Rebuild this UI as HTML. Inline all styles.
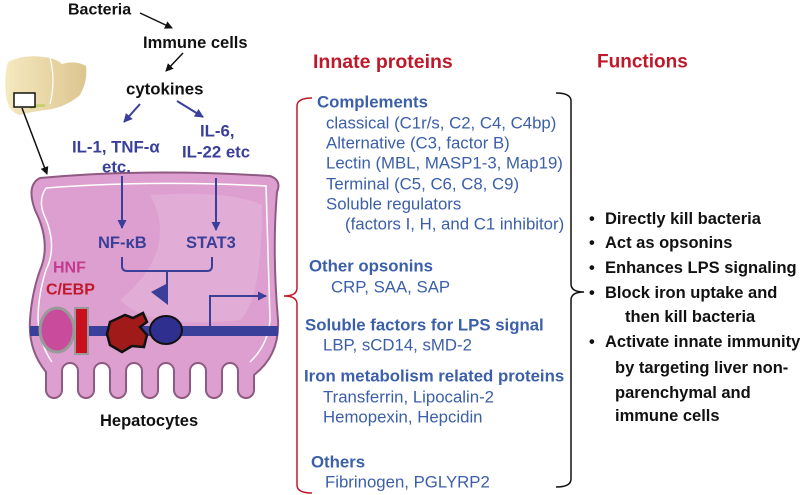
<!DOCTYPE html>
<html><head><meta charset="utf-8"><style>
html,body{margin:0;padding:0;background:#fff;}
svg{display:block;}
text{font-family:"Liberation Sans",Arial,sans-serif;dominant-baseline:central;}
.b{font-weight:bold;}
.bl{fill:#3b5fa8;font-size:16.8px;}
.fn{fill:#111;font-size:16.5px;font-weight:bold;}
</style></head><body>
<svg width="800" height="495" viewBox="0 0 800 495" xmlns="http://www.w3.org/2000/svg">
<defs>
<marker id="ak" markerWidth="8" markerHeight="8" refX="7" refY="4" orient="auto" markerUnits="userSpaceOnUse"><path d="M0,0 L8,4 L0,8 z" fill="#111"/></marker>
<marker id="ab" markerWidth="9" markerHeight="9" refX="8" refY="4.5" orient="auto" markerUnits="userSpaceOnUse"><path d="M0,0 L9,4.5 L0,9 z" fill="#3a3f9a"/></marker>
<linearGradient id="lv" x1="0" x2="1"><stop offset="0" stop-color="#f5e9bf"/><stop offset="1" stop-color="#dcc58f"/></linearGradient>
</defs>
<!-- liver -->
<path d="M8,62 Q25,53 50,58 Q58,60 62,64 Q75,60 86,66 Q88,80 80,95 Q65,108 45,110 Q30,112 20,115 Q8,112 6,95 Q4,75 8,62 Z" fill="url(#lv)"/>
<path d="M50,58 Q56,80 50,104" fill="none" stroke="#fff" stroke-width="1.2"/>
<path d="M30,108 Q40,104 45,106" stroke="#c8d070" stroke-width="3" fill="none"/>
<rect x="14" y="93" width="21" height="14" fill="#fff" stroke="#111" stroke-width="1.5"/>
<line x1="22" y1="108" x2="47" y2="174" stroke="#111" stroke-width="1.5" marker-end="url(#ak)"/>
<!-- top texts -->
<text x="68" y="10" class="b" font-size="16" fill="#111">Bacteria</text>
<line x1="140" y1="13" x2="172" y2="28" stroke="#111" stroke-width="1.5" marker-end="url(#ak)"/>
<text x="143" y="43" class="b" font-size="16.5" fill="#111">Immune cells</text>
<line x1="183" y1="53" x2="166" y2="71" stroke="#111" stroke-width="1.5" marker-end="url(#ak)"/>
<text x="126" y="89" class="b" font-size="16.8" fill="#111">cytokines</text>
<!-- cell -->
<path d="M40,178 Q150,168 270,176 Q282,180 277,192 Q272,250 278,320 Q280,355 254,375 L254,390 A8,8 0 0 1 238,390 L238,371 A8,8 0 0 0 222,371 L222,390 A8,8 0 0 1 206,390 L206,371 A8,8 0 0 0 190,371 L190,390 A8,8 0 0 1 174,390 L174,371 A8,8 0 0 0 158,371 L158,390 A8,8 0 0 1 142,390 L142,371 A8,8 0 0 0 126,371 L126,390 A8,8 0 0 1 110,390 L110,371 A8,8 0 0 0 94,371 L94,390 A8,8 0 0 1 78,390 L78,371 A8,8 0 0 0 62,371 L62,390 A8,8 0 0 1 46,390 L46,372 Q28,350 30,320 Q32,290 42,265 Q50,240 35,210 Q26,185 40,178 Z" fill="#dd9fcf" stroke="#8f5a82" stroke-width="2"/>
<path d="M46,188 Q150,180 266,186 Q268,250 270,320 Q268,345 250,362" fill="none" stroke="#fff" stroke-width="1.5"/>
<path d="M46,188 Q38,200 44,215 Q58,245 46,270 Q38,295 38,320 Q40,345 52,362" fill="none" stroke="#fff" stroke-width="1.5"/>
<path d="M150,195 Q230,190 262,205 Q262,300 240,320 Q150,330 120,300 Q180,250 150,195 Z" fill="#e5b5d9" opacity="0.6"/>
<!-- cytokine arrows -->
<line x1="140" y1="104" x2="124" y2="122" stroke="#3a3f9a" stroke-width="2" marker-end="url(#ab)"/>
<line x1="177" y1="101" x2="203" y2="117" stroke="#3a3f9a" stroke-width="2" marker-end="url(#ab)"/>
<text x="72" y="147" class="b" font-size="16.8" fill="#3a3f9a">IL-1, TNF-α</text>
<text x="102" y="167" class="b" font-size="16.8" fill="#3a3f9a">etc.</text>
<text x="200" y="131" class="b" font-size="16.8" fill="#3a3f9a">IL-6,</text>
<text x="182" y="152" class="b" font-size="16.8" fill="#3a3f9a">IL-22 etc</text>
<line x1="122" y1="176" x2="122" y2="228" stroke="#3a3f9a" stroke-width="2" marker-end="url(#ab)"/>
<line x1="216" y1="178" x2="216" y2="230" stroke="#3a3f9a" stroke-width="2" marker-end="url(#ab)"/>
<text x="98" y="243" class="b" font-size="16.5" fill="#3a3f9a">NF-κB</text>
<text x="186" y="243" class="b" font-size="16.5" fill="#3a3f9a">STAT3</text>
<path d="M122,257 V266 Q122,271 127,271 H207 Q212,271 212,266 V257 M167,271 V290" fill="none" stroke="#3a3f9a" stroke-width="2"/>
<path d="M151,292 L168,283 L168,305 Z" fill="#3a3f9a"/>
<text x="53" y="268" class="b" font-size="16" fill="#c23b8f">HNF</text>
<text x="46" y="290" class="b" font-size="16" fill="#c0182b">C/EBP</text>
<!-- DNA -->
<rect x="30" y="326" width="248" height="10" fill="#3a3f9a"/>
<ellipse cx="57" cy="330" rx="17" ry="22" fill="#c94c9c" stroke="#999" stroke-width="3"/>
<rect x="75" y="308" width="13" height="46" fill="#c8101e" stroke="#999" stroke-width="2"/>
<path d="M110,322 L125,315 L133,318 L143,313 L147,322 L140,327 L147,335 L144,347 L132,346 L122,352 L110,345 L107,334 Z" fill="#a01a1a" stroke="#111" stroke-width="2.5"/>
<ellipse cx="166" cy="330" rx="16" ry="14" fill="#2f2f8f" stroke="#111" stroke-width="2"/>
<path d="M210,326 V296 H266" fill="none" stroke="#3a3f9a" stroke-width="2" marker-end="url(#ab)"/>
<text x="100" y="421" class="b" font-size="16.5" fill="#111">Hepatocytes</text>
<!-- headers -->
<text x="313" y="62" class="b" font-size="19.5" fill="#c0182b">Innate proteins</text>
<text x="597" y="62" class="b" font-size="19" fill="#c0182b">Functions</text>
<!-- red brace -->
<path d="M312,98 Q297,98 297,106 V288 Q297,296 284,296 Q297,296 297,304 V485 Q297,493 312,493" fill="none" stroke="#c0182b" stroke-width="1.5"/>
<!-- black brace -->
<path d="M556,93 Q571,93 571,101 V284 Q571,292 584,292 Q571,292 571,300 V479 Q571,487 556,487" fill="none" stroke="#111" stroke-width="1.5"/>
<!-- protein list -->
<text x="317" y="102" class="bl b">Complements</text>
<text x="326" y="123" class="bl">classical (C1r/s, C2, C4, C4bp)</text>
<text x="326" y="143" class="bl">Alternative (C3, factor B)</text>
<text x="326" y="163" class="bl">Lectin (MBL, MASP1-3, Map19)</text>
<text x="326" y="184" class="bl">Terminal (C5, C6, C8, C9)</text>
<text x="326" y="204" class="bl">Soluble regulators</text>
<text x="345" y="224" class="bl">(factors I, H, and C1 inhibitor)</text>
<text x="309" y="266" class="bl b">Other opsonins</text>
<text x="331" y="287" class="bl">CRP, SAA, SAP</text>
<text x="305" y="325" class="bl b">Soluble factors for LPS signal</text>
<text x="323" y="345" class="bl">LBP, sCD14, sMD-2</text>
<text x="304" y="376" class="bl b">Iron metabolism related proteins</text>
<text x="323" y="397" class="bl">Transferrin, Lipocalin-2</text>
<text x="323" y="417" class="bl">Hemopexin, Hepcidin</text>
<text x="311" y="462" class="bl b">Others</text>
<text x="325" y="482" class="bl">Fibrinogen, PGLYRP2</text>
<!-- functions -->
<text x="589" y="219" class="fn">•</text><text x="605" y="219" class="fn">Directly kill bacteria</text>
<text x="589" y="243" class="fn">•</text><text x="605" y="243" class="fn">Act as opsonins</text>
<text x="589" y="268" class="fn">•</text><text x="605" y="268" class="fn">Enhances LPS signaling</text>
<text x="589" y="293" class="fn">•</text><text x="605" y="293" class="fn">Block iron uptake and</text>
<text x="625" y="317" class="fn">then kill bacteria</text>
<text x="589" y="342" class="fn">•</text><text x="605" y="342" class="fn">Activate innate immunity</text>
<text x="615" y="368" class="fn">by targeting liver non-</text>
<text x="615" y="393" class="fn">parenchymal and</text>
<text x="615" y="416" class="fn">immune cells</text>
</svg>
</body></html>
